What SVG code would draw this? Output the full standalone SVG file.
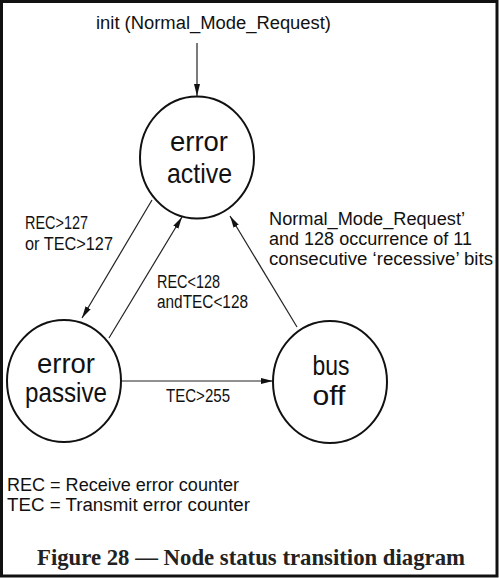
<svg xmlns="http://www.w3.org/2000/svg" width="499" height="578" viewBox="0 0 499 578">
<style>
.t{font-family:"Liberation Sans",Arial,sans-serif;font-size:18px;fill:#111}
.n{font-family:"Liberation Sans",Arial,sans-serif;font-size:28px;fill:#111;text-anchor:middle}
.c{fill:#fff;stroke:#111;stroke-width:2}
.e{stroke:#222;stroke-width:1.2;fill:none;marker-end:url(#a)}
.cap{font-family:"Liberation Serif","Times New Roman",serif;font-size:24px;font-weight:bold;fill:#222}
</style>
<defs>
<marker id="a" viewBox="0 0 12 6" refX="12" refY="3" markerWidth="12" markerHeight="6" markerUnits="userSpaceOnUse" orient="auto">
<path d="M0,0 L12,3 L0,6 Z" fill="#111"/>
</marker>
</defs>
<rect x="1.5" y="1.5" width="495.5" height="574.5" fill="#fff" stroke="#111" stroke-width="3"/>
<g id="connectors">
<line class="e" x1="197" y1="43" x2="197" y2="96"/>
<line class="e" x1="152" y1="200" x2="82" y2="318"/>
<line class="e" x1="109" y1="338" x2="182" y2="217"/>
<line class="e" x1="297" y1="327" x2="230" y2="216"/>
<line class="e" x1="122" y1="381" x2="273" y2="381"/>
<text class="t" x="96" y="29" textLength="235" lengthAdjust="spacingAndGlyphs">init (Normal_Mode_Request)</text>
<text class="t" x="25" y="229" textLength="63" lengthAdjust="spacingAndGlyphs">REC&gt;127</text>
<text class="t" x="25" y="250" textLength="88" lengthAdjust="spacingAndGlyphs">or TEC&gt;127</text>
<text class="t" x="157" y="288" textLength="63" lengthAdjust="spacingAndGlyphs">REC&lt;128</text>
<text class="t" x="157" y="308" textLength="91" lengthAdjust="spacingAndGlyphs">andTEC&lt;128</text>
<text class="t" x="269" y="225" textLength="196" lengthAdjust="spacingAndGlyphs">Normal_Mode_Request’</text>
<text class="t" x="269" y="245" textLength="203" lengthAdjust="spacingAndGlyphs">and 128 occurrence of 11</text>
<text class="t" x="269" y="265" textLength="224" lengthAdjust="spacingAndGlyphs">consecutive ‘recessive’ bits</text>
<text class="t" x="166" y="402" textLength="64" lengthAdjust="spacingAndGlyphs">TEC&gt;255</text>
</g>
<g id="error-active">
<ellipse class="c" cx="197" cy="157.5" rx="57" ry="61"/>
<text class="n" x="199" y="151" textLength="58" lengthAdjust="spacingAndGlyphs">error</text>
<text class="n" x="199.5" y="183" textLength="65" lengthAdjust="spacingAndGlyphs">active</text>
</g>
<g id="error-passive">
<ellipse class="c" cx="64" cy="381" rx="57" ry="61"/>
<text class="n" x="66" y="373" textLength="58" lengthAdjust="spacingAndGlyphs">error</text>
<text class="n" x="66" y="402" textLength="82" lengthAdjust="spacingAndGlyphs">passive</text>
</g>
<g id="bus-off">
<ellipse class="c" cx="330" cy="382" rx="57" ry="61"/>
<text class="n" x="331" y="375" textLength="37" lengthAdjust="spacingAndGlyphs">bus</text>
<text class="n" x="329" y="405" textLength="33" lengthAdjust="spacingAndGlyphs">off</text>
</g>
<g id="legend">
<text class="t" x="7" y="491" textLength="232" lengthAdjust="spacingAndGlyphs">REC = Receive error counter</text>
<text class="t" x="7" y="511" textLength="243" lengthAdjust="spacingAndGlyphs">TEC = Transmit error counter</text>
</g>
<text class="cap" x="37" y="565" textLength="428" lengthAdjust="spacingAndGlyphs">Figure 28 — Node status transition diagram</text>
</svg>
